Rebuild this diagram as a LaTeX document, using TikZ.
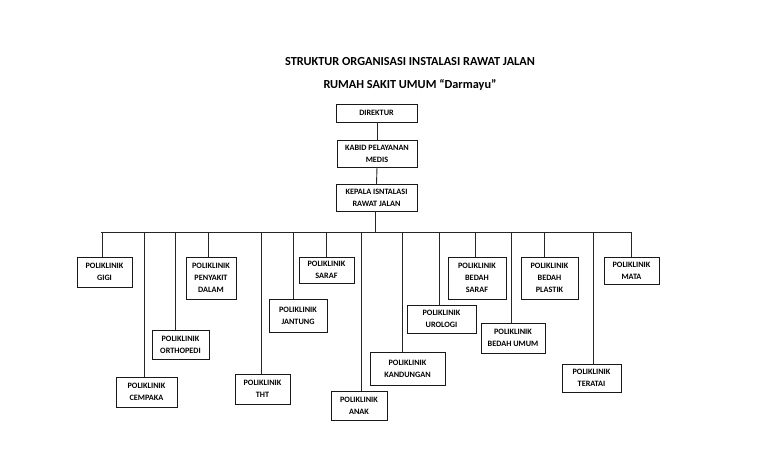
\documentclass[tikz,border=0pt]{standalone}
\usepackage{fontspec}
\setmainfont{Carlito}
\begin{document}
\begin{tikzpicture}[x=1pt,y=-1pt,
  box/.style={draw=black!90,line width=0.95pt,inner sep=0pt,outer sep=0pt,align=center,
    font=\bfseries\fontsize{8.2}{12}\selectfont,text=black},
  ttl/.style={font=\bfseries\fontsize{12.3}{14}\selectfont,text=black,inner sep=0pt},
  wire/.style={draw=black!85,line width=0.9pt}]
\useasboundingbox (0,0) rectangle (768,466);
% titles
\node[ttl] (t1) at (410,62) {STRUKTUR ORGANISASI INSTALASI RAWAT JALAN};
\node[ttl] (t2) at (410,85) {RUMAH SAKIT UMUM “Darmayu”};
% top chain
\node[box,minimum width=81pt,minimum height=18pt] (dir) at (376.5,113) {DIREKTUR};
\node[box,minimum width=80pt,minimum height=27pt] (kabid) at (377,153.5) {KABID PELAYANAN\\MEDIS};
\node[box,minimum width=81pt,minimum height=27pt] (kepala) at (376.5,197.5) {KEPALA ISNTALASI\\RAWAT JALAN};
% poliklinik boxes
\node[box,minimum width=55pt,minimum height=30pt] (gigi) at (104.5,272) {POLIKLINIK\\GIGI};
\node[box,minimum width=61pt,minimum height=30pt] (cempaka) at (146.5,392) {POLIKLINIK\\CEMPAKA};
\node[box,minimum width=57pt,minimum height=29pt] (ortho) at (180.5,344.5) {POLIKLINIK\\ORTHOPEDI};
\node[box,minimum width=50pt,minimum height=42pt] (penyakit) at (211,278) {POLIKLINIK\\PENYAKIT\\DALAM};
\node[box,minimum width=55pt,minimum height=30pt] (tht) at (262.5,389) {POLIKLINIK\\THT};
\node[box,minimum width=58pt,minimum height=33pt] (jantung) at (298,315.5) {POLIKLINIK\\JANTUNG};
\node[box,minimum width=55pt,minimum height=26pt] (saraf) at (326.5,270) {POLIKLINIK\\SARAF};
\node[box,minimum width=56pt,minimum height=29pt] (anak) at (359,405.5) {POLIKLINIK\\ANAK};
\node[box,minimum width=75pt,minimum height=33pt] (kandungan) at (407.5,368.5) {POLIKLINIK\\KANDUNGAN};
\node[box,minimum width=69pt,minimum height=28pt] (urologi) at (441.5,319) {POLIKLINIK\\UROLOGI};
\node[box,minimum width=58pt,minimum height=42pt] (bsaraf) at (477,278) {POLIKLINIK\\BEDAH\\SARAF};
\node[box,minimum width=64pt,minimum height=30pt] (bumum) at (513,338) {POLIKLINIK\\BEDAH UMUM};
\node[box,minimum width=57pt,minimum height=42pt] (bplastik) at (549.5,278) {POLIKLINIK\\BEDAH\\PLASTIK};
\node[box,minimum width=59pt,minimum height=28pt] (teratai) at (591.5,378) {POLIKLINIK\\TERATAI};
\node[box,minimum width=55pt,minimum height=27pt] (mata) at (631.5,270.5) {POLIKLINIK\\MATA};
% bus coordinates
\coordinate (bk) at (375,232);
\coordinate (bL) at (101,232);
\coordinate (bR) at (632,232);
\coordinate (c1) at (102,232);
\coordinate (c2) at (144,232);
\coordinate (c3) at (175,232);
\coordinate (c4) at (208,232);
\coordinate (c5) at (261,232);
\coordinate (c6) at (293,232);
\coordinate (c7) at (326,232);
\coordinate (c8) at (361,232);
\coordinate (c9) at (402,232);
\coordinate (c10) at (439,232);
\coordinate (c11) at (475,232);
\coordinate (c12) at (511,232);
\coordinate (c13) at (544,232);
\coordinate (c14) at (593,232);
\coordinate (c15) at (631,232);
% wires
\draw[wire] (dir.south -| kabid.north) -- (kabid.north);
\draw[wire] (kabid.south) -- (kepala.north);
\draw[wire] (kepala.south -| bk) -- (bk);
\draw[wire] (bL) -- (bR);
\draw[wire] (c1) -- (c1 |- gigi.north);
\draw[wire] (c2) -- (c2 |- cempaka.north);
\draw[wire] (c3) -- (c3 |- ortho.north);
\draw[wire] (c4) -- (c4 |- penyakit.north);
\draw[wire] (c5) -- (c5 |- tht.north);
\draw[wire] (c6) -- (c6 |- jantung.north);
\draw[wire] (c7) -- (c7 |- saraf.north);
\draw[wire] (c8) -- (c8 |- anak.north);
\draw[wire] (c9) -- (c9 |- kandungan.north);
\draw[wire] (c10) -- (c10 |- urologi.north);
\draw[wire] (c11) -- (c11 |- bsaraf.north);
\draw[wire] (c12) -- (c12 |- bumum.north);
\draw[wire] (c13) -- (c13 |- bplastik.north);
\draw[wire] (c14) -- (c14 |- teratai.north);
\draw[wire] (c15) -- (c15 |- mata.north);
\end{tikzpicture}
\end{document}
